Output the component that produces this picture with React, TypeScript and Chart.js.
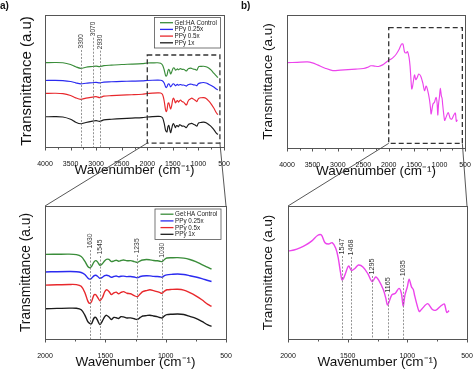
import React, { useEffect, useRef } from 'react';
import { Chart, registerables } from 'chart.js';

Chart.register(...registerables);

const FONT = "'Liberation Sans', Arial, sans-serif";

// ---------- data ----------
const wavenumbers = [
  4000, 3800, 3650, 3500, 3400, 3300, 3200, 3070, 3000, 2930, 2850, 2700, 2500, 2300, 2100,
  2000, 1900, 1800, 1740, 1700, 1670, 1645, 1630, 1615, 1595, 1580, 1565, 1545, 1525, 1505,
  1490, 1470, 1450, 1430, 1410, 1390, 1370, 1350, 1320, 1290, 1260, 1235, 1210, 1190, 1160,
  1130, 1100, 1070, 1050, 1030, 1010, 990, 950, 900, 850, 800, 750, 700, 650, 620,
];
const gelHAControl = [
  63.9, 64.0, 63.8, 62.5, 60.8, 59.6, 60.4, 61.0, 61.3, 60.9, 61.6, 62.0, 62.5, 62.8, 63.2,
  63.6, 63.7, 63.8, 63.4, 62.0, 58.5, 54.5, 53.6, 54.4, 57.8, 58.9, 58.0, 55.4, 56.6, 58.8,
  59.9, 59.8, 58.2, 58.6, 59.2, 58.5, 59.0, 59.4, 58.8, 58.9, 58.2, 57.6, 58.8, 59.4, 59.8,
  59.5, 59.0, 58.8, 58.5, 58.2, 59.8, 60.9, 61.1, 61.2, 60.8, 59.8, 58.2, 56.0, 53.9, 52.5,
];
const ppy025 = [
  50.4, 50.5, 50.3, 49.6, 48.6, 47.8, 48.3, 48.7, 49.0, 48.6, 49.2, 49.4, 49.7, 49.9, 50.1,
  50.4, 50.6, 50.7, 50.6, 50.0, 48.5, 45.8, 45.0, 45.6, 47.5, 47.9, 47.2, 45.6, 46.4, 47.6,
  47.9, 47.4, 46.4, 47.0, 47.4, 46.8, 47.2, 47.3, 46.9, 47.0, 46.6, 46.1, 47.0, 47.4, 47.6,
  47.5, 47.1, 47.0, 46.8, 46.5, 47.6, 48.2, 48.6, 48.9, 48.5, 47.6, 46.6, 45.4, 44.0, 43.2,
];
const ppy05 = [
  40.6, 40.7, 40.4, 39.0, 37.2, 36.1, 37.0, 37.8, 38.2, 37.4, 38.5, 38.9, 39.3, 39.6, 40.0,
  40.5, 40.8, 41.0, 40.9, 39.6, 35.0, 28.5, 26.8, 28.0, 33.0, 33.4, 31.5, 28.8, 31.0, 35.5,
  37.0, 35.8, 33.4, 34.6, 35.2, 34.0, 35.0, 35.6, 34.4, 34.0, 32.6, 31.8, 34.0, 35.6, 36.4,
  37.0, 36.4, 35.6, 35.0, 34.4, 36.0, 37.0, 37.3, 37.4, 36.8, 34.9, 32.5, 29.5, 26.0, 24.5,
];
const ppy1 = [
  22.9, 23.0, 22.7, 21.0, 18.8, 17.6, 18.6, 19.6, 20.0, 19.4, 20.5, 21.0, 21.5, 21.9, 22.3,
  22.7, 23.0, 23.2, 23.1, 22.0, 18.0, 13.0, 11.8, 11.4, 15.6, 16.3, 14.2, 10.8, 13.5, 16.8,
  17.8, 16.5, 14.6, 16.2, 16.0, 15.4, 16.8, 16.6, 15.8, 15.9, 15.2, 14.7, 16.2, 17.3, 17.6,
  17.9, 17.3, 16.8, 16.2, 15.8, 17.4, 18.3, 18.6, 18.8, 18.4, 17.0, 15.5, 13.2, 10.6, 9.5,
];
const seriesNames = ['Gel:HA Control', 'PPy 0.25x', 'PPy 0.5x', 'PPy 1x'];

const ppyWavenumbers = [
  4000, 3800, 3600, 3500, 3400, 3250, 3100, 2950, 2800, 2650, 2500, 2420, 2350, 2280, 2200,
  2120, 2050, 2000, 1950, 1900, 1850, 1800, 1750, 1720, 1690, 1660, 1630, 1600, 1580, 1560,
  1547, 1530, 1500, 1490, 1468, 1440, 1410, 1370, 1330, 1295, 1265, 1240, 1200, 1180, 1165,
  1130, 1100, 1070, 1050, 1035, 1020, 1000, 985, 965, 950, 940, 920, 900, 880, 830,
  790, 760, 720, 690, 670, 650,
];
const ppyTransmittance = [
  64.2, 64.4, 64.7, 64.0, 62.5, 60.0, 58.2, 58.6, 58.9, 59.3, 59.8, 60.6, 61.8, 61.6, 61.3,
  62.5, 64.5, 66.0, 66.9, 68.5, 70.7, 73.8, 78.0, 78.2, 72.4, 71.4, 72.4, 68.2, 61.4, 50.0,
  44.4, 46.5, 53.9, 54.9, 51.4, 53.0, 55.6, 54.0, 48.9, 43.1, 46.6, 44.2, 36.8, 30.5, 25.6,
  33.1, 34.4, 38.1, 34.4, 24.8, 33.0, 39.2, 44.9, 39.2, 37.2, 33.1, 26.0, 20.7, 22.4, 26.6,
  22.2, 21.7, 24.8, 26.3, 20.0, 21.3,
];

const xTicksFull = [4000, 3500, 3000, 2500, 2000, 1500, 1000, 500];
const xTicksZoom = [2000, 1500, 1000, 500];

const peaksA = [3300, 3070, 2930];
const peaksC = [1630, 1545, 1235, 1030];
const peaksD = [1547, 1468, 1295, 1165, 1035];

// zoom window (wavenumber range shown in the lower panels)
const zoomRangeA = [2000, 580];
const zoomRangeB = [2000, 552];

// ---------- layout / style (not data) ----------
const peakLabelTopA = [73.5, 82.8, 73.0];
const peakLabelTopC = [66.9, 62.4, 63.2, 59.9];
const peakLabelTopD = [62.4, 61.7, 47.4, 33.6, 46.1];
const zoomBoxYA = [69.7, 3];
const zoomBoxYB = [90.5, 3.5];

const seriesColors = ['#3a8d3a', '#2b2bf0', '#e8282c', '#1c1c1c'];
const magenta = '#ec44ec';

const decorPlugin = {
  id: 'decor',
  afterDatasetsDraw(chart: any, _args: any, opts: any) {
    const { ctx, chartArea: a, scales } = chart;
    const xs = scales.x;
    const ys = scales.y;
    ctx.save();
    if (opts.peaks) {
      const p = opts.peaks;
      p.values.forEach((w: number, i: number) => {
        const px = Math.round(xs.getPixelForValue(w)) + 0.5;
        const top = ys.getPixelForValue(p.labelTop[i]);
        ctx.strokeStyle = '#777';
        ctx.lineWidth = 0.8;
        ctx.setLineDash([2, 1.5]);
        ctx.beginPath();
        ctx.moveTo(px, top);
        ctx.lineTo(px, a.bottom);
        ctx.stroke();
        ctx.setLineDash([]);
        ctx.save();
        ctx.translate(px, top - 1.5);
        ctx.rotate(-Math.PI / 2);
        ctx.font = `${p.fontSize}px ${FONT}`;
        ctx.fillStyle = '#333';
        ctx.textAlign = 'left';
        ctx.textBaseline = 'middle';
        ctx.fillText(String(w), 0, 0);
        ctx.restore();
      });
    }
    if (opts.zoomRect) {
      const z = opts.zoomRect;
      const x1 = xs.getPixelForValue(z.x[0]);
      const x2 = xs.getPixelForValue(z.x[1]);
      const y1 = ys.getPixelForValue(z.y[0]);
      const y2 = ys.getPixelForValue(z.y[1]);
      ctx.strokeStyle = '#333';
      ctx.lineWidth = 1.3;
      ctx.setLineDash([5, 3]);
      ctx.strokeRect(x1, y1, x2 - x1, y2 - y1);
      ctx.setLineDash([]);
    }
    if (opts.legend) {
      const L = opts.legend;
      const n = chart.data.datasets.length;
      const bw = L.width;
      const bh = L.pad * 2 + (n - 1) * L.rowH;
      const bx = a.right - L.right - bw;
      const by = a.top + L.top;
      ctx.fillStyle = '#fff';
      ctx.fillRect(bx, by, bw, bh);
      ctx.strokeStyle = '#555';
      ctx.lineWidth = 0.8;
      ctx.strokeRect(bx, by, bw, bh);
      chart.data.datasets.forEach((ds: any, i: number) => {
        const cy = by + L.pad + i * L.rowH;
        ctx.strokeStyle = ds.borderColor;
        ctx.lineWidth = 1.3;
        ctx.beginPath();
        ctx.moveTo(bx + 5.5, cy);
        ctx.lineTo(bx + 18.5, cy);
        ctx.stroke();
        ctx.fillStyle = '#222';
        ctx.font = `${L.fontSize}px ${FONT}`;
        ctx.textAlign = 'left';
        ctx.textBaseline = 'middle';
        ctx.fillText(ds.label, bx + 20, cy + 0.3);
      });
    }
    // frame
    ctx.strokeStyle = '#555';
    ctx.lineWidth = 1;
    ctx.strokeRect(Math.round(a.left) + 0.5, Math.round(a.top) + 0.5, Math.round(a.right - a.left), Math.round(a.bottom - a.top));
    // small outward ticks on the x axis (major at labels, minor halfway)
    const tv: number[] = xs.ticks.map((t: any) => t.value);
    const by0 = Math.round(a.bottom) + 1;
    ctx.beginPath();
    tv.forEach((v, i) => {
      const px = Math.round(xs.getPixelForValue(v)) + 0.5;
      ctx.moveTo(px, by0);
      ctx.lineTo(px, by0 + 2.5);
      if (i < tv.length - 1) {
        const m = (v + tv[i + 1]) / 2;
        const pm = Math.round(xs.getPixelForValue(m)) + 0.5;
        ctx.moveTo(pm, by0);
        ctx.lineTo(pm, by0 + 1.5);
      }
    });
    ctx.stroke();
    ctx.restore();
  },
};

type Panel = {
  left: number; top: number; w: number; h: number;
  pad: { top: number; right: number };
  yWidth: number; xHeight: number;
  yTitleSize: number; yTitlePad: number;
  xTitleSize: number; xTitlePad: number;
  xMax: number; ticks: number[];
  datasets: any[];
  decor: any;
};

function seriesDatasets(width: number) {
  const vals = [gelHAControl, ppy025, ppy05, ppy1];
  return vals.map((v, i) => ({
    label: seriesNames[i],
    data: wavenumbers.map((w, j) => ({ x: w, y: v[j] })),
    borderColor: seriesColors[i],
    borderWidth: width,
    pointRadius: 0,
    tension: 0.3,
    fill: false,
  }));
}
function ppyDataset(width: number) {
  return [{
    label: 'PPy',
    data: ppyWavenumbers.map((w, j) => ({ x: w, y: ppyTransmittance[j] })),
    borderColor: magenta,
    borderWidth: width,
    pointRadius: 0,
    tension: 0.3,
    fill: false,
  }];
}

const legendStyle = { width: 66, rowH: 6.7, pad: 5.2, right: 3.5, top: 2.5, fontSize: 6.3 };

const PANELS: Panel[] = [
  {
    left: 0, top: 0, w: 237, h: 182, pad: { top: 15, right: 13 }, yWidth: 45, xHeight: 35,
    yTitleSize: 15, yTitlePad: 17.5, xTitleSize: 13.5, xTitlePad: 4,
    xMax: 4000, ticks: xTicksFull, datasets: seriesDatasets(1.15),
    decor: {
      peaks: { values: peaksA, labelTop: peakLabelTopA, fontSize: 6.5 },
      zoomRect: { x: zoomRangeA, y: zoomBoxYA },
      legend: legendStyle,
    },
  },
  {
    left: 237, top: 0, w: 237, h: 182, pad: { top: 15, right: 9 }, yWidth: 50, xHeight: 34,
    yTitleSize: 13.5, yTitlePad: 22.9, xTitleSize: 13.5, xTitlePad: 2.2,
    xMax: 4000, ticks: xTicksFull, datasets: ppyDataset(1.15),
    decor: { zoomRect: { x: zoomRangeB, y: zoomBoxYB } },
  },
  {
    left: 0, top: 182, w: 237, h: 189, pad: { top: 24, right: 11 }, yWidth: 45, xHeight: 32,
    yTitleSize: 13.8, yTitlePad: 17.7, xTitleSize: 13.5, xTitlePad: 1,
    xMax: 2000, ticks: xTicksZoom, datasets: seriesDatasets(1.4),
    decor: {
      peaks: { values: peaksC, labelTop: peakLabelTopC, fontSize: 6.8 },
      legend: { ...legendStyle, right: 5, top: 3 },
    },
  },
  {
    left: 237, top: 182, w: 237, h: 189, pad: { top: 24, right: 7 }, yWidth: 51, xHeight: 32,
    yTitleSize: 13.4, yTitlePad: 23, xTitleSize: 13.5, xTitlePad: 1,
    xMax: 2000, ticks: xTicksZoom, datasets: ppyDataset(1.4),
    decor: { peaks: { values: peaksD, labelTop: peakLabelTopD, fontSize: 7.2 } },
  },
];

function buildConfig(p: Panel): any {
  return {
    type: 'line',
    data: { datasets: p.datasets },
    plugins: [decorPlugin],
    options: {
      animation: false,
      responsive: false,
      devicePixelRatio: 1,
      layout: { padding: { left: 0, top: p.pad.top, right: p.pad.right, bottom: 0 } },
      plugins: {
        legend: { display: false },
        tooltip: { enabled: false },
        decor: p.decor,
      },
      scales: {
        x: {
          type: 'linear',
          reverse: true,
          min: 500,
          max: p.xMax,
          grid: { display: false },
          border: { display: false },
          ticks: {
            font: { family: FONT, size: 7 },
            color: '#111',
            maxRotation: 0,
            minRotation: 0,
            autoSkip: false,
            padding: 4.5,
            callback: (v: any) => String(v),
          },
          afterBuildTicks: (s: any) => { s.ticks = p.ticks.map((v) => ({ value: v })); },
          afterFit: (s: any) => { s.height = p.xHeight; s.paddingLeft = 0; s.paddingRight = 0; },
          title: {
            display: true,
            text: 'Wavenumber (cm⁻¹)',
            font: { family: FONT, size: p.xTitleSize },
            color: '#111',
            padding: { top: 0, bottom: p.xTitlePad },
          },
        },
        y: {
          type: 'linear',
          min: 0,
          max: 100,
          grid: { display: false },
          border: { display: false },
          ticks: { display: false },
          afterFit: (s: any) => { s.width = p.yWidth; s.paddingTop = 0; s.paddingBottom = 0; },
          title: {
            display: true,
            text: 'Transmittance (a.u)',
            font: { family: FONT, size: p.yTitleSize },
            color: '#111',
            padding: { top: p.yTitlePad, bottom: 0 },
          },
        },
      },
    },
  };
}

export default function App() {
  const r0 = useRef<HTMLCanvasElement>(null);
  const r1 = useRef<HTMLCanvasElement>(null);
  const r2 = useRef<HTMLCanvasElement>(null);
  const r3 = useRef<HTMLCanvasElement>(null);
  const overlay = useRef<HTMLCanvasElement>(null);
  const refs = [r0, r1, r2, r3];

  useEffect(() => {
    const charts = PANELS.map((p, i) => new Chart(refs[i].current as HTMLCanvasElement, buildConfig(p)));
    const oc = overlay.current as HTMLCanvasElement;
    const ctx = oc.getContext('2d') as CanvasRenderingContext2D;
    ctx.clearRect(0, 0, oc.width, oc.height);

    const connect = (upper: number, lower: number, xr: number[], yBottom: number) => {
      const cu = charts[upper];
      const cl = charts[lower];
      const pu = PANELS[upper];
      const pl = PANELS[lower];
      const bx1 = pu.left + cu.scales.x.getPixelForValue(xr[0]);
      const bx2 = pu.left + cu.scales.x.getPixelForValue(xr[1]);
      const by = pu.top + cu.scales.y.getPixelForValue(yBottom);
      const ca = cl.chartArea;
      ctx.strokeStyle = '#444';
      ctx.lineWidth = 0.9;
      ctx.beginPath();
      ctx.moveTo(bx1, by);
      ctx.lineTo(pl.left + ca.left, pl.top + ca.top);
      ctx.moveTo(bx2, by);
      ctx.lineTo(pl.left + ca.right, pl.top + ca.top);
      ctx.stroke();
    };
    connect(0, 2, zoomRangeA, zoomBoxYA[1]);
    connect(1, 3, zoomRangeB, zoomBoxYB[1]);

    ctx.fillStyle = '#111';
    ctx.font = `bold 10px ${FONT}`;
    ctx.textBaseline = 'alphabetic';
    ctx.fillText('a)', 0, 9);
    ctx.fillText('b)', 241, 9);

    return () => charts.forEach((c) => c.destroy());
  }, []);

  return (
    <div style={{ position: 'fixed', left: 0, top: 0, width: 474, height: 371, background: '#fff', overflow: 'hidden' }}>
      {PANELS.map((p, i) => (
        <canvas
          key={i}
          ref={refs[i]}
          width={p.w}
          height={p.h}
          style={{ position: 'absolute', left: p.left, top: p.top, width: p.w, height: p.h }}
        />
      ))}
      <canvas
        ref={overlay}
        width={474}
        height={371}
        style={{ position: 'absolute', left: 0, top: 0, width: 474, height: 371, pointerEvents: 'none' }}
      />
    </div>
  );
}
